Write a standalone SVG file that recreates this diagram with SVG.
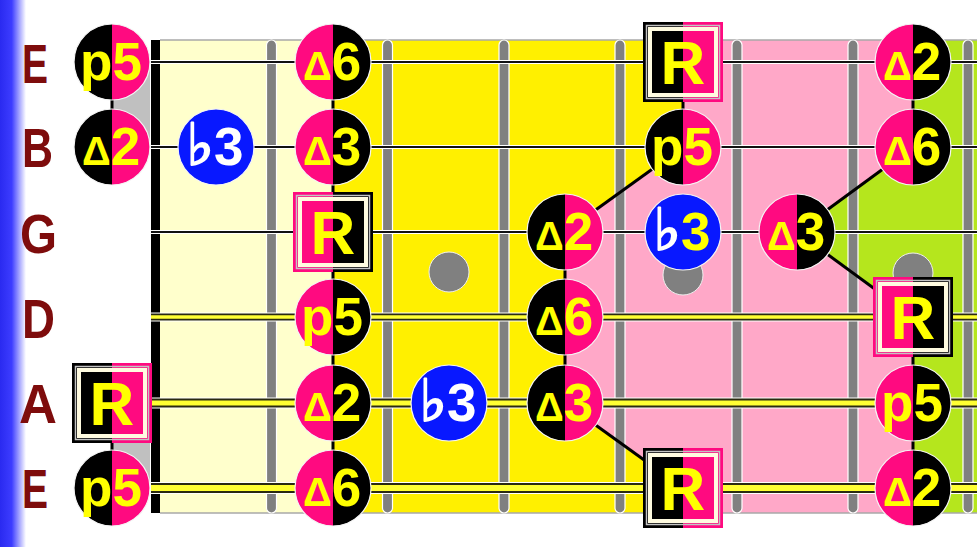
<svg xmlns="http://www.w3.org/2000/svg" xmlns:xlink="http://www.w3.org/1999/xlink" width="977" height="547" viewBox="0 0 977 547">
<defs>
<linearGradient id="bluebar" x1="0" y1="0" x2="1" y2="0">
<stop offset="0" stop-color="#2a2af0"/>
<stop offset="0.45" stop-color="#3c3cff"/>
<stop offset="1" stop-color="#ffffff"/>
</linearGradient>
<path id="lh" d="M0,-38A38,38 0 0 0 0,38Z"/>
<path id="rh" d="M0,-38A38,38 0 0 1 0,38Z"/>
<g id="frame">
<rect x="-33" y="-33" width="66" height="66" fill="none" stroke="#fffbe0" stroke-width="4"/>
<rect x="-36.5" y="-36.5" width="73" height="73" fill="none" stroke="#c4c4c4" stroke-width="1.5"/>
</g>
</defs>
<style>
.k{fill:#000000}
.m{fill:#ff0a80}
.bl{fill:#0818ff}
.ol{fill:none;stroke:#f4f4f4;stroke-width:1.2}
.t{font-family:"Liberation Sans",Arial,sans-serif;font-weight:bold;font-size:53px;fill:#ffff00;text-anchor:middle}
.d{font-size:40px}
.fl{font-family:"DejaVu Sans","Liberation Sans",sans-serif;font-weight:bold;font-size:58px;fill:#ffffff;stroke:#ffffff;stroke-width:2}
.w{fill:#ffffff}
.r{font-family:"Liberation Sans",Arial,sans-serif;font-weight:bold;font-size:62px;fill:#ffff00;text-anchor:middle}
.lab{font-family:"Liberation Sans",Arial,sans-serif;font-weight:bold;font-size:56px;fill:#7e0c0c}
.fret{fill:#808080;stroke:#ffffff;stroke-width:1.2}
.dot{fill:#808080;stroke:#eeeeee;stroke-width:1}
.con{stroke:#000000;stroke-width:3;fill:none}
</style>

<rect x="0" y="0" width="977" height="547" fill="#ffffff"/>
<rect x="0" y="0" width="26" height="547" fill="url(#bluebar)"/>

<g id="labels">
<text class="lab" x="22" y="83" textLength="26" lengthAdjust="spacingAndGlyphs">E</text>
<text class="lab" x="22" y="167" textLength="31" lengthAdjust="spacingAndGlyphs">B</text>
<text class="lab" x="20" y="253" textLength="37" lengthAdjust="spacingAndGlyphs">G</text>
<text class="lab" x="22" y="338" textLength="33" lengthAdjust="spacingAndGlyphs">D</text>
<text class="lab" x="19" y="423" textLength="38" lengthAdjust="spacingAndGlyphs">A</text>
<text class="lab" x="22" y="508" textLength="26" lengthAdjust="spacingAndGlyphs">E</text>
</g>

<g id="fretboard">
<rect x="160" y="40" width="817" height="473" fill="#ffffcc"/>
<polygon points="333,40 683,40 683,147 565,232 565,403 683,488 683,513 333,513" fill="#fff000"/>
<polygon points="683,40 913,40 913,147 797,232 913,317 913,513 683,513 683,488 565,403 565,232 683,147" fill="#ffa8c8"/>
<polygon points="913,40 977,40 977,513 913,513 913,317 797,232 913,147" fill="#b5e61d"/>
<line x1="160" y1="40" x2="977" y2="40" stroke="#a8a8a8" stroke-width="1.5"/>
<line x1="160" y1="513" x2="977" y2="513" stroke="#a8a8a8" stroke-width="1.5"/>
<rect x="112" y="62" width="38" height="85" fill="#c0c0c0"/>
<rect x="112" y="403" width="38" height="85" fill="#c0c0c0"/>
<rect x="151" y="40" width="9" height="473" fill="#000000"/>
<rect class="fret" x="266.5" y="40" width="10" height="473" rx="5"/>
<rect class="fret" x="382.5" y="40" width="10" height="473" rx="5"/>
<rect class="fret" x="499" y="40" width="10" height="473" rx="5"/>
<rect class="fret" x="615" y="40" width="10" height="473" rx="5"/>
<rect class="fret" x="732" y="40" width="10" height="473" rx="5"/>
<rect class="fret" x="848" y="40" width="10" height="473" rx="5"/>
<rect class="fret" x="963" y="40" width="10" height="473" rx="5"/>
<circle class="dot" cx="449" cy="272" r="20"/>
<circle class="dot" cx="683" cy="275" r="20"/>
<circle class="dot" cx="913" cy="273" r="20"/>
</g>

<g id="strings">
<line x1="151" y1="62" x2="977" y2="62" stroke="#ffffff" stroke-width="4"/>
<line x1="151" y1="62" x2="977" y2="62" stroke="#111111" stroke-width="1.8"/>
<line x1="151" y1="147" x2="977" y2="147" stroke="#ffffff" stroke-width="4"/>
<line x1="151" y1="147" x2="977" y2="147" stroke="#111111" stroke-width="1.8"/>
<line x1="151" y1="232" x2="977" y2="232" stroke="#ffffff" stroke-width="4"/>
<line x1="151" y1="232" x2="977" y2="232" stroke="#111111" stroke-width="1.8"/>
<line x1="151" y1="317" x2="977" y2="317" stroke="#ffffff" stroke-width="9"/>
<line x1="151" y1="317" x2="977" y2="317" stroke="#2a2a10" stroke-width="7"/>
<line x1="151" y1="317" x2="977" y2="317" stroke="#ffff33" stroke-width="3.5"/>
<line x1="151" y1="403" x2="977" y2="403" stroke="#ffffff" stroke-width="11"/>
<line x1="151" y1="403" x2="977" y2="403" stroke="#2a2a10" stroke-width="9"/>
<line x1="151" y1="403" x2="977" y2="403" stroke="#ffff33" stroke-width="5"/>
<line x1="151" y1="488" x2="977" y2="488" stroke="#ffffff" stroke-width="12"/>
<line x1="151" y1="488" x2="977" y2="488" stroke="#2a2a10" stroke-width="10"/>
<line x1="151" y1="488" x2="977" y2="488" stroke="#ffff33" stroke-width="6"/>
</g>

<g id="connectors">
<line class="con" x1="112" y1="62" x2="112" y2="147"/>
<line class="con" x1="112" y1="403" x2="112" y2="488"/>
<line class="con" x1="333" y1="62" x2="333" y2="488"/>
<line class="con" x1="565" y1="232" x2="565" y2="403"/>
<line class="con" x1="683" y1="62" x2="683" y2="147"/>
<line class="con" x1="913" y1="62" x2="913" y2="147"/>
<line class="con" x1="913" y1="317" x2="913" y2="488"/>
<line class="con" x1="565" y1="232" x2="683" y2="147"/>
<line class="con" x1="565" y1="403" x2="683" y2="488"/>
<line class="con" x1="797" y1="232" x2="913" y2="147"/>
<line class="con" x1="797" y1="232" x2="913" y2="317"/>
</g>

<g id="n-open-e" transform="translate(112,62)"><use href="#lh" class="k"/><use href="#rh" class="m"/><circle r="38" class="ol"/><text class="t" x="-1" y="18">p5</text></g>
<g id="n-open-b" transform="translate(112,147)"><use href="#lh" class="k"/><use href="#rh" class="m"/><circle r="38" class="ol"/><text class="t" x="-1" y="18"><tspan class="d">Δ</tspan>2</text></g>
<g id="n-open-a" transform="translate(112,403)"><rect x="-40" y="-40" width="40" height="80" class="k"/><rect x="0" y="-40" width="40" height="80" class="m"/><use href="#frame"/><text class="r" x="0" y="22">R</text></g>
<g id="n-open-e6" transform="translate(112,488)"><use href="#lh" class="k"/><use href="#rh" class="m"/><circle r="38" class="ol"/><text class="t" x="-1" y="18">p5</text></g>

<g id="n-f1-b" transform="translate(216,147)"><circle r="38" class="bl"/><circle r="38" class="ol"/><text class="t" x="-1" y="18"><tspan class="fl">♭</tspan><tspan class="w">3</tspan></text></g>

<g id="n-f2-e" transform="translate(333,62)"><use href="#lh" class="m"/><use href="#rh" class="k"/><circle r="38" class="ol"/><text class="t" x="-1" y="18"><tspan class="d">Δ</tspan>6</text></g>
<g id="n-f2-b" transform="translate(333,147)"><use href="#lh" class="m"/><use href="#rh" class="k"/><circle r="38" class="ol"/><text class="t" x="-1" y="18"><tspan class="d">Δ</tspan>3</text></g>
<g id="n-f2-g" transform="translate(333,232)"><rect x="-40" y="-40" width="40" height="80" class="m"/><rect x="0" y="-40" width="40" height="80" class="k"/><use href="#frame"/><text class="r" x="0" y="22">R</text></g>
<g id="n-f2-d" transform="translate(333,317)"><use href="#lh" class="m"/><use href="#rh" class="k"/><circle r="38" class="ol"/><text class="t" x="-1" y="18">p5</text></g>
<g id="n-f2-a" transform="translate(333,403)"><use href="#lh" class="m"/><use href="#rh" class="k"/><circle r="38" class="ol"/><text class="t" x="-1" y="18"><tspan class="d">Δ</tspan>2</text></g>
<g id="n-f2-e6" transform="translate(333,488)"><use href="#lh" class="m"/><use href="#rh" class="k"/><circle r="38" class="ol"/><text class="t" x="-1" y="18"><tspan class="d">Δ</tspan>6</text></g>

<g id="n-f3-a" transform="translate(449,403)"><circle r="38" class="bl"/><circle r="38" class="ol"/><text class="t" x="-1" y="18"><tspan class="fl">♭</tspan><tspan class="w">3</tspan></text></g>

<g id="n-f4-g" transform="translate(565,232)"><use href="#lh" class="k"/><use href="#rh" class="m"/><circle r="38" class="ol"/><text class="t" x="-1" y="18"><tspan class="d">Δ</tspan>2</text></g>
<g id="n-f4-d" transform="translate(565,317)"><use href="#lh" class="k"/><use href="#rh" class="m"/><circle r="38" class="ol"/><text class="t" x="-1" y="18"><tspan class="d">Δ</tspan>6</text></g>
<g id="n-f4-a" transform="translate(565,403)"><use href="#lh" class="k"/><use href="#rh" class="m"/><circle r="38" class="ol"/><text class="t" x="-1" y="18"><tspan class="d">Δ</tspan>3</text></g>

<g id="n-f5-e" transform="translate(683,62)"><rect x="-40" y="-40" width="40" height="80" class="k"/><rect x="0" y="-40" width="40" height="80" class="m"/><use href="#frame"/><text class="r" x="0" y="22">R</text></g>
<g id="n-f5-b" transform="translate(683,147)"><use href="#lh" class="k"/><use href="#rh" class="m"/><circle r="38" class="ol"/><text class="t" x="-1" y="18">p5</text></g>
<g id="n-f5-g" transform="translate(683,232)"><circle r="38" class="bl"/><circle r="38" class="ol"/><text class="t" x="-1" y="18"><tspan class="fl">♭</tspan>3</text></g>
<g id="n-f5-e6" transform="translate(683,488)"><rect x="-40" y="-40" width="40" height="80" class="k"/><rect x="0" y="-40" width="40" height="80" class="m"/><use href="#frame"/><text class="r" x="0" y="22">R</text></g>

<g id="n-f6-g" transform="translate(797,232)"><use href="#lh" class="m"/><use href="#rh" class="k"/><circle r="38" class="ol"/><text class="t" x="-1" y="18"><tspan class="d">Δ</tspan>3</text></g>

<g id="n-f7-e" transform="translate(913,62)"><use href="#lh" class="m"/><use href="#rh" class="k"/><circle r="38" class="ol"/><text class="t" x="-1" y="18"><tspan class="d">Δ</tspan>2</text></g>
<g id="n-f7-b" transform="translate(913,147)"><use href="#lh" class="m"/><use href="#rh" class="k"/><circle r="38" class="ol"/><text class="t" x="-1" y="18"><tspan class="d">Δ</tspan>6</text></g>
<g id="n-f7-d" transform="translate(913,317)"><rect x="-40" y="-40" width="40" height="80" class="m"/><rect x="0" y="-40" width="40" height="80" class="k"/><use href="#frame"/><text class="r" x="0" y="22">R</text></g>
<g id="n-f7-a" transform="translate(913,403)"><use href="#lh" class="m"/><use href="#rh" class="k"/><circle r="38" class="ol"/><text class="t" x="-1" y="18">p5</text></g>
<g id="n-f7-e6" transform="translate(913,488)"><use href="#lh" class="m"/><use href="#rh" class="k"/><circle r="38" class="ol"/><text class="t" x="-1" y="18"><tspan class="d">Δ</tspan>2</text></g>
</svg>
